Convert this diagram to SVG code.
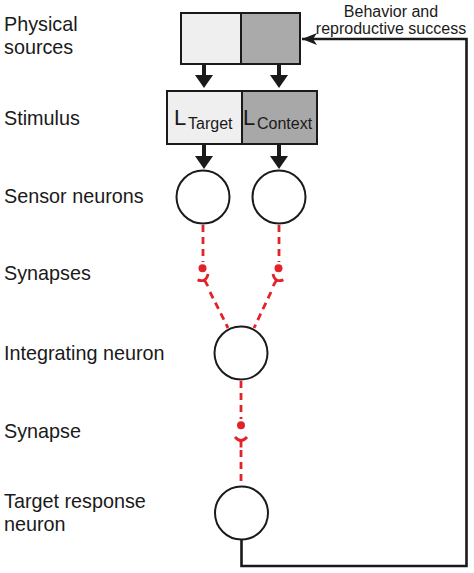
<svg xmlns="http://www.w3.org/2000/svg" width="474" height="573" viewBox="0 0 474 573">
<style>
.lbl{font-family:"Liberation Sans",Arial,sans-serif;font-size:19.8px;fill:#1a1a1a}
.sm{font-family:"Liberation Sans",Arial,sans-serif;font-size:16px;fill:#1a1a1a}
.big{font-family:"Liberation Sans",Arial,sans-serif;font-size:22px;fill:#1a1a1a}
.box{stroke:#1a1a1a;stroke-width:2}
.neuron{fill:#fff;stroke:#1a1a1a;stroke-width:2}
.dash{stroke:#e3232a;stroke-width:2.8;stroke-dasharray:7,5;fill:none}
.rec{stroke:#e3232a;stroke-width:2.8;fill:none}
.dot{fill:#e3232a}
.shaft{stroke:#1a1a1a;stroke-width:4}
.head{fill:#1a1a1a}
</style>
<defs>
<g id="receptor"><path d="M-6,-3.5 Q0,3.5 6,-3.5" class="rec"/><line x1="0" y1="-0.5" x2="0" y2="7" class="rec"/></g>
<marker id="ah" viewBox="0 0 15 12" refX="15" refY="6" markerWidth="15" markerHeight="12" markerUnits="userSpaceOnUse" orient="auto"><path d="M15,6 L0,0 L4,6 L0,12 Z" fill="#1a1a1a"/></marker>
</defs>

<g id="labels">
<text class="lbl" x="4" y="31">Physical</text>
<text class="lbl" x="4" y="54">sources</text>
<text class="lbl" x="4" y="125">Stimulus</text>
<text class="lbl" x="4" y="203">Sensor neurons</text>
<text class="lbl" x="4" y="280">Synapses</text>
<text class="lbl" x="4" y="360">Integrating neuron</text>
<text class="lbl" x="4" y="438">Synapse</text>
<text class="lbl" x="4" y="508">Target response</text>
<text class="lbl" x="4" y="531">neuron</text>
</g>

<g id="physical-sources">
<rect class="box" x="181" y="13" width="60" height="51" fill="#efefef"/>
<rect class="box" x="241" y="13" width="59" height="51" fill="#aaaaaa"/>
</g>

<g id="stimulus">
<rect class="box" x="167" y="91" width="75" height="53" fill="#efefef"/>
<rect class="box" x="242" y="91" width="75" height="53" fill="#a8a8a8"/>
<text class="big" x="174" y="125">L</text><text class="sm" x="188" y="129">Target</text>
<text class="big" x="243" y="125">L</text><text class="sm" x="257" y="129">Context</text>
</g>

<g id="sensor-target"><circle class="neuron" cx="203" cy="197" r="26.5"/></g>
<g id="sensor-context"><circle class="neuron" cx="279" cy="197" r="26.5"/></g>
<g id="integrating-neuron"><circle class="neuron" cx="241" cy="353" r="26.5"/></g>
<g id="target-response-neuron"><circle class="neuron" cx="241.5" cy="513" r="26.5"/></g>

<g id="feedback-label">
<text class="sm" x="391" y="17" text-anchor="middle">Behavior and</text>
<text class="sm" x="391" y="34" text-anchor="middle">reproductive success</text>
</g>

<g id="connectors">
<line class="shaft" x1="204" y1="64" x2="204" y2="77"/><polygon class="head" points="195,75 213,75 204,88"/>
<line class="shaft" x1="279" y1="64" x2="279" y2="77"/><polygon class="head" points="270,75 288,75 279,88"/>
<line class="shaft" x1="204" y1="144" x2="204" y2="158"/><polygon class="head" points="195,156 213,156 204,169"/>
<line class="shaft" x1="279" y1="144" x2="279" y2="158"/><polygon class="head" points="270,156 288,156 279,169"/>

<line class="dash" x1="203" y1="225" x2="203" y2="262"/>
<circle class="dot" cx="202.5" cy="268.3" r="4"/>
<use href="#receptor" transform="translate(204.5,280) rotate(-29)"/>
<line class="dash" x1="210" y1="292" x2="228" y2="328"/>

<line class="dash" x1="279" y1="225" x2="279" y2="262"/>
<circle class="dot" cx="278.5" cy="268.3" r="4"/>
<use href="#receptor" transform="translate(276.5,280) rotate(29)"/>
<line class="dash" x1="271" y1="292" x2="254" y2="328"/>

<line class="dash" x1="241" y1="381" x2="241" y2="419"/>
<circle class="dot" cx="241" cy="425.3" r="4"/>
<use href="#receptor" transform="translate(241,440.5)"/>
<line class="dash" x1="241" y1="450" x2="241" y2="486"/>

<path d="M241.5,539.5 V566 H466.5 V39 H302" fill="none" stroke="#1a1a1a" stroke-width="2.6" marker-end="url(#ah)"/>
</g>
</svg>
